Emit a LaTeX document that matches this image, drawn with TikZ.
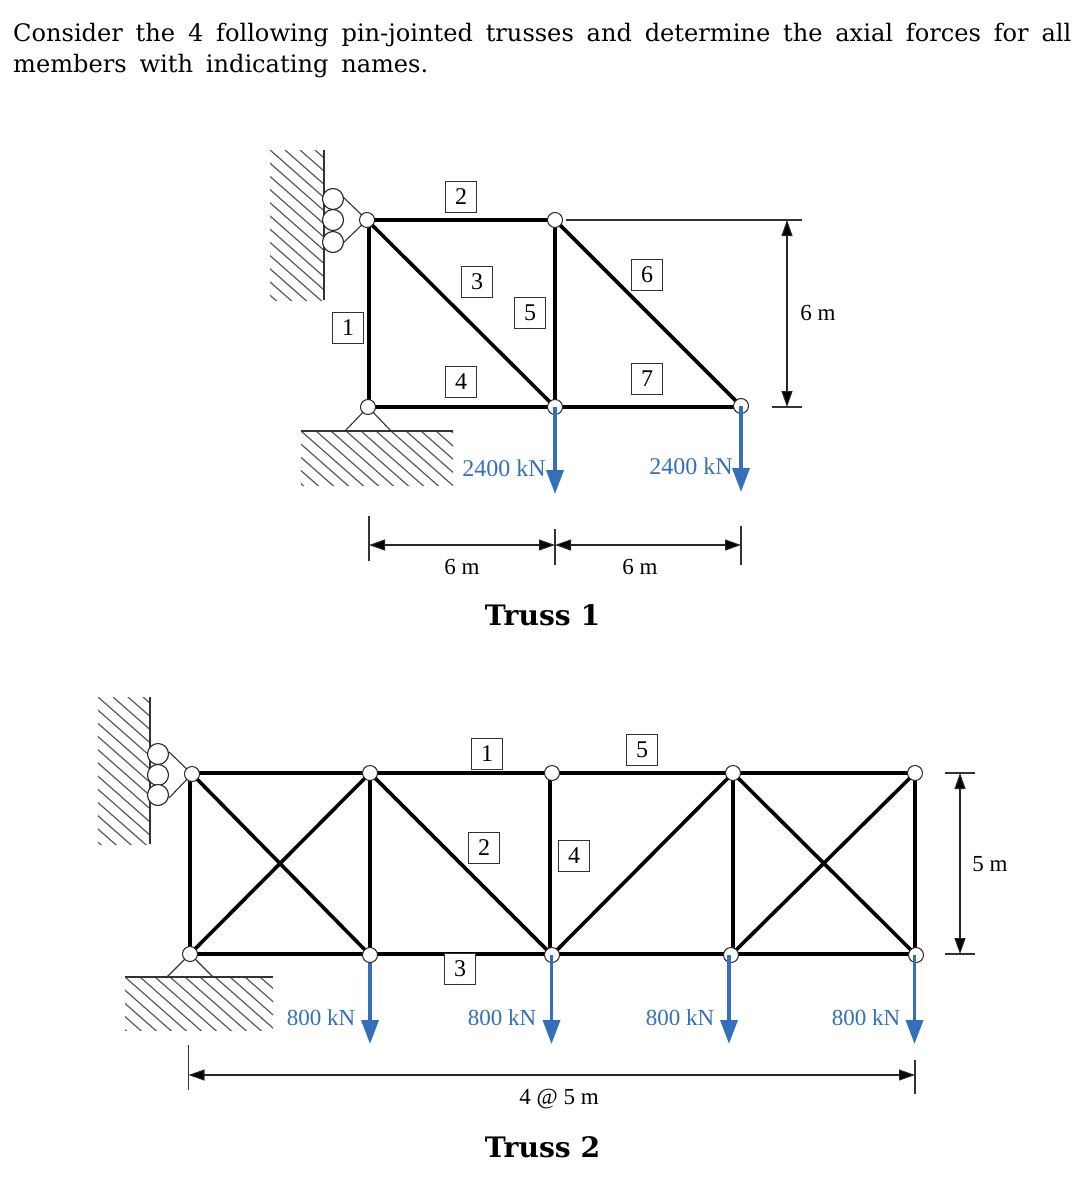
\documentclass[tikz,border=0pt]{standalone}
\usepackage{fontspec}
\setmainfont{Liberation Serif}
\newfontfamily\headfont{DejaVu Serif}
\usetikzlibrary{arrows.meta,backgrounds}
\definecolor{loadblue}{RGB}{52,112,186}
\newcommand{\headskip}{\spaceskip 12.8pt\relax}
\tikzset{
  pin/.style={circle,draw=black!85,fill=white,line width=1pt,inner sep=0pt,minimum size=15pt},
  roller/.style={circle,draw=black!85,fill=white,line width=1.1pt,inner sep=0pt,minimum size=21pt},
  member/.style={line width=3.6pt,black},
  thin line/.style={line width=1.1pt,black!80},
  hatch/.style={line width=1.2pt,black!65},
  load/.style={line width=3.6pt,draw=loadblue,-{Triangle[length=24pt,width=17pt]}},
  loadtext/.style={text=loadblue,font=\fontsize{23}{23}\selectfont,inner sep=0pt},
  bigload/.style={loadtext,font=\fontsize{24}{24}\selectfont},
  dim/.style={line width=1.1pt,black!85,{Triangle[length=16pt,width=11pt,fill=black]}-{Triangle[length=16pt,width=11pt,fill=black]}},
  dimtext/.style={font=\fontsize{23}{23}\selectfont,inner sep=0pt},
  tag/.style={draw=black!80,fill=white,line width=1pt,minimum width=31pt,minimum height=31pt,inner sep=0pt,font=\fontsize{24}{24}\selectfont},
  title/.style={font=\headfont\bfseries\fontsize{28.2}{28.2}\selectfont,inner sep=0pt},
  head/.style={font=\headfont\fontsize{24.1}{30}\selectfont,inner sep=0pt,anchor=base west}
}
\newcommand{\hatchbox}[4]{
  \begin{scope}
    \clip (#1,#2) rectangle (#3,#4);
    \foreach \s in {-405,-390,...,400}
      \draw[hatch] (#1+\s,#2) -- ++(200,176);
  \end{scope}
}
\begin{document}
\begin{tikzpicture}[x=1pt,y=-1pt]
\useasboundingbox (0,0) rectangle (1080,1196);
\node[head] (line1) at (13,41.5) {\headskip Consider the 4 following pin-jointed trusses and determine the axial forces for all};
\node[head] (line2) at (13,73) {\headskip members with indicating names.};

% truss 1
\hatchbox{270}{150}{324}{300}
\hatchbox{301}{431}{453}{485}
\path (324,150) coordinate (wt) (324,300) coordinate (wu);
\path (301,431) coordinate (gt) (453,431) coordinate (gu);
\draw[thin line] (wt) -- (wu);
\draw[thin line] (gt) -- (gu);
\node[pin] (a) at (367,220) {};
\node[pin] (b) at (555,220) {};
\node[pin] (c) at (368,407) {};
\node[pin] (d) at (555,407) {};
\node[pin] (e) at (741,406) {};
\begin{scope}[on background layer]
\draw[member] (a.center) -- (b.center);
\draw[member] ([xshift=2pt]a.center) -- ([xshift=1pt]c.center);
\draw[member] (c.center) -- (d.center);
\draw[member] (d.center) -- (e.center |- d.center);
\draw[member] (b.center) -- (d.center);
\draw[member] (a.center) -- (d.center);
\draw[member] (b.center) -- (e.center);
\end{scope}
\node[roller] (ra) at (333,199) {};
\node[roller] (rb) at (333,220) {};
\node[roller] (rc) at (333,242) {};
\coordinate (wa) at (343,197);
\coordinate (wb) at (343,243);
\coordinate (ga) at (345,431);
\coordinate (gb) at (391,431);
\draw[thin line] (wa) -- (a) -- (wb) -- cycle;
\draw[thin line] (ga) -- (c) -- (gb);
\path (566,220) coordinate (tops) (802,220) coordinate (tope);
\path (772,407) coordinate (bots) (802,407) coordinate (bote);
\coordinate (dimtop) at (787,220);
\coordinate (dimbot) at (787,407);
\draw[thin line] (tops) -- (tope);
\draw[thin line] (bots) -- (bote);
\draw[dim] (dimtop) -- (dimbot);
\node[dimtext] (h1) at (818,313) {6 m};
\coordinate (dtip) at (555,494);
\coordinate (etip) at (741,492);
\draw[load] (d.center) -- (dtip);
\draw[load] (e.center) -- (etip);
\node[bigload] (p1) at (504,468) {2400 kN};
\node[bigload] (p2) at (691,466) {2400 kN};
\coordinate (s1) at (369,545);
\coordinate (s2) at (555,545);
\coordinate (s3) at (741,545);
\path (369,516) coordinate (sa) (369,561) coordinate (sb);
\path (555,529) coordinate (sc) (555,565) coordinate (sd);
\path (741,526) coordinate (se) (741,565) coordinate (sf);
\draw[thin line] (sa) -- (sb);
\draw[thin line] (sc) -- (sd);
\draw[thin line] (se) -- (sf);
\draw[dim] (s1) -- (s2);
\draw[dim] (s2) -- (s3);
\node[dimtext] (w1) at (462,567) {6 m};
\node[dimtext] (w2) at (640,567) {6 m};
\node[tag] (m2) at (461,197) {2};
\node[tag] (m3) at (477,282) {3};
\node[tag] (m1) at (348,328) {1};
\node[tag] (m5) at (530,313) {5};
\node[tag] (m4) at (461,382) {4};
\node[tag] (m6) at (647,275) {6};
\node[tag] (m7) at (647,379) {7};
\node[title] (t1) at (542.5,615) {Truss 1};

% truss 2
\hatchbox{98}{697}{150}{844}
\hatchbox{125}{977}{273}{1030}
\path (150,697) coordinate (vt) (150,844) coordinate (vu);
\path (125,977) coordinate (ht) (273,977) coordinate (hu);
\draw[thin line] (vt) -- (vu);
\draw[thin line] (ht) -- (hu);
\node[pin] (p) at (192,774) {};
\node[pin] (q) at (370,773) {};
\node[pin] (r) at (552,773) {};
\node[pin] (s) at (733,773) {};
\node[pin] (u) at (915,773) {};
\node[pin] (k) at (190,954) {};
\node[pin] (l) at (370,955) {};
\node[pin] (m) at (552,955) {};
\node[pin] (n) at (731,955) {};
\node[pin] (o) at (916,955) {};
\begin{scope}[on background layer]
\foreach \i/\j in {p/q,q/r,r/s,s/u}
  \draw[member] (\i.center |- q.center) -- (\j.center |- q.center);
\foreach \i/\j in {k/l,l/m,m/n,n/o}
  \draw[member] (\i.center |- k.center) -- (\j.center |- k.center);
\draw[member] (k.center |- p.center) -- (k.center);
\draw[member] (q.center) -- (l.center);
\draw[member] ([xshift=-2pt]r.center) -- ([xshift=-2pt]m.center);
\draw[member] (s.center) -- (s.center |- n.center);
\draw[member] (u.center) -- (u.center |- o.center);
\foreach \i/\j in {p/l,k/q,q/m,m/s,s/o,n/u}
  \draw[member] (\i.center) -- (\j.center);
\end{scope}
\node[roller] (va) at (158,754) {};
\node[roller] (vb) at (158,775) {};
\node[roller] (vc) at (158,795) {};
\coordinate (vwa) at (169,752);
\coordinate (vwb) at (169,798);
\coordinate (vga) at (167,977);
\coordinate (vgb) at (213,977);
\draw[thin line] (vwa) -- (p) -- (vwb) -- cycle;
\draw[thin line] (vga) -- (k) -- (vgb);
\coordinate (vtop) at (960,773);
\coordinate (vbot) at (960,954);
\path (945,773) coordinate (ta) (975,773) coordinate (tb);
\path (945,954) coordinate (tc) (975,954) coordinate (td);
\draw[thin line] (ta) -- (tb);
\draw[thin line] (tc) -- (td);
\draw[dim] (vtop) -- (vbot);
\node[dimtext] (h2) at (990,864) {5 m};
\coordinate (ltip) at (370,1044);
\coordinate (mtip) at (551.5,1044);
\coordinate (ntip) at (729,1044);
\coordinate (otip) at (914.5,1044);
\draw[load] (l.south) -- (ltip);
\draw[load] (mtip |- m.center) -- (mtip);
\draw[load] (ntip |- n.center) -- (ntip);
\draw[load] (otip |- o.center) -- (otip);
\node[loadtext] (f1) at (321,1018) {800 kN};
\node[loadtext] (f2) at (502,1018) {800 kN};
\node[loadtext] (f3) at (680,1018) {800 kN};
\node[loadtext] (f4) at (866,1018) {800 kN};
\coordinate (x1) at (188.5,1075);
\coordinate (x2) at (915,1075);
\path (188.5,1045) coordinate (xa) (188.5,1090) coordinate (xb);
\path (915,1060) coordinate (xc) (915,1094) coordinate (xd);
\draw[thin line] (xa) -- (xb);
\draw[thin line] (xc) -- (xd);
\draw[dim] (x1) -- (x2);
\node[dimtext] (w3) at (559,1099) {4 @ 5 m};
\node[tag] (n1) at (487,754) {1};
\node[tag] (n5) at (642,750) {5};
\node[tag] (n2) at (484,848) {2};
\node[tag] (n4) at (574,856) {4};
\node[tag] (n3) at (460,969) {3};
\node[title] (t2) at (542.5,1147) {Truss 2};
\end{tikzpicture}
\end{document}
